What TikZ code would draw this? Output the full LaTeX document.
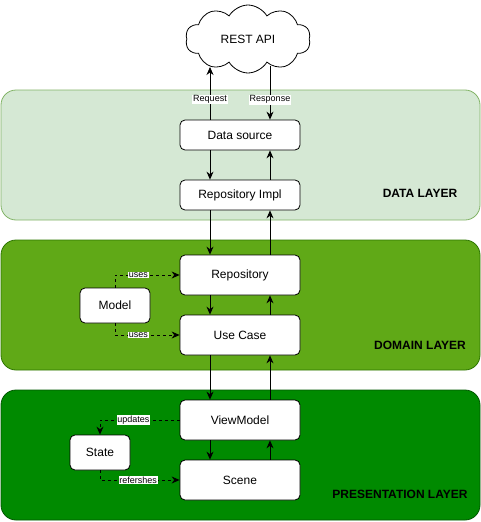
\documentclass[tikz,border=0pt]{standalone}
\usepackage{fontspec}
\setmainfont{Liberation Sans}
\usetikzlibrary{shapes.symbols,arrows.meta,calc}
\definecolor{dataFill}{HTML}{D5E8D4}
\definecolor{dataLine}{HTML}{82B366}
\definecolor{domFill}{HTML}{60A917}
\definecolor{domLine}{HTML}{2D7600}
\definecolor{preFill}{HTML}{008A00}
\definecolor{preLine}{HTML}{005700}
\begin{document}
\begin{tikzpicture}[x=1pt,y=-1pt,
  layer/.style={rounded corners=15pt,line width=0.8pt},
  box/.style={draw=black,fill=white,rounded corners=5pt,line width=0.8pt,minimum width=120pt,minimum height=#1,font=\fontsize{12}{14}\selectfont,inner sep=0pt},
  box/.default=30pt,
  sbox/.style={draw=black,fill=white,rounded corners=5pt,line width=0.8pt,font=\fontsize{12}{14}\selectfont,inner sep=0pt},
  flow/.style={line width=0.8pt,-{Stealth[length=8pt,width=7pt]}},
  dflow/.style={line width=0.8pt,dashed,dash pattern=on 3pt off 3pt,-{Stealth[length=8pt,width=7pt]}},
  lbl/.style={fill=white,inner sep=0.8pt,font=\fontsize{9}{10}\selectfont},
  layertext/.style={font=\bfseries\fontsize{12}{14}\selectfont}]
\useasboundingbox (0,0) rectangle (481,522);
% layers
\draw[layer,fill=dataFill,draw=dataLine] (1,90) rectangle (480,220);
\draw[layer,fill=domFill,draw=domLine] (1,240) rectangle (480,370);
\draw[layer,fill=preFill,draw=preLine] (1,390) rectangle (480,520);
\node[layertext] (dl) at (420,193) {DATA LAYER};
\node[layertext] (dml) at (420,345) {DOMAIN LAYER};
\node[layertext] (pl) at (400,494) {PRESENTATION LAYER};
% cloud
\node[cloud,draw=black,fill=white,line width=0.8pt,cloud puffs=10,cloud puff arc=120,aspect=1.8,minimum width=125pt,minimum height=68pt,font=\fontsize{12}{14}\selectfont] (api) at (248,39) {REST API};
% boxes
\node[box] (ds) at (240,135) {Data source};
\node[box] (ri) at (240,195) {Repository Impl};
\node[box=40pt] (repo) at (240,275) {Repository};
\node[box=40pt] (uc) at (240,335) {Use Case};
\node[box=40pt] (vm) at (240,420) {ViewModel};
\node[box=40pt] (sc) at (240,480) {Scene};
\node[sbox,minimum width=70pt,minimum height=35pt] (model) at (115,305.5) {Model};
\node[sbox,minimum width=60pt,minimum height=35pt] (state) at (100,452.5) {State};
% API arrows
\coordinate (reqend) at (210,67);
\coordinate (resstart) at (270,66);
\draw[flow] ([xshift=-30pt]ds.north) -- node[lbl,pos=0.38] {Request} (reqend);
\draw[flow] (resstart) -- node[lbl,pos=0.63] {Response} ([xshift=30pt]ds.north);
% vertical flows
\draw[flow] ([xshift=-30pt]ds.south) -- ([xshift=-30pt]ri.north);
\draw[flow] ([xshift=30pt]ri.north) -- ([xshift=30pt]ds.south);
\draw[flow] ([xshift=-30pt]ri.south) -- ([xshift=-30pt]repo.north);
\draw[flow] ([xshift=30pt]repo.north) -- ([xshift=30pt]ri.south);
\draw[flow] ([xshift=-30pt]repo.south) -- ([xshift=-30pt]uc.north);
\draw[flow] ([xshift=30pt]uc.north) -- ([xshift=30pt]repo.south);
\draw[flow] ([xshift=-30pt]uc.south) -- ([xshift=-30pt]vm.north);
\draw[flow] ([xshift=30pt]vm.north) -- ([xshift=30pt]uc.south);
\draw[flow] ([xshift=-30pt]vm.south) -- ([xshift=-30pt]sc.north);
\draw[flow] ([xshift=30pt]sc.north) -- ([xshift=30pt]vm.south);
% dashed
\draw[dflow] (model.north) |- node[lbl,pos=0.68] {uses} (repo.west);
\draw[dflow] (model.south) |- node[lbl,pos=0.68] {uses} (uc.west);
\draw[dflow] (vm.west) -| node[lbl,pos=0.29] {updates} (state.north);
\draw[dflow] (state.south) |- node[lbl,pos=0.74] {refershes} (sc.west);
\end{tikzpicture}
\end{document}
